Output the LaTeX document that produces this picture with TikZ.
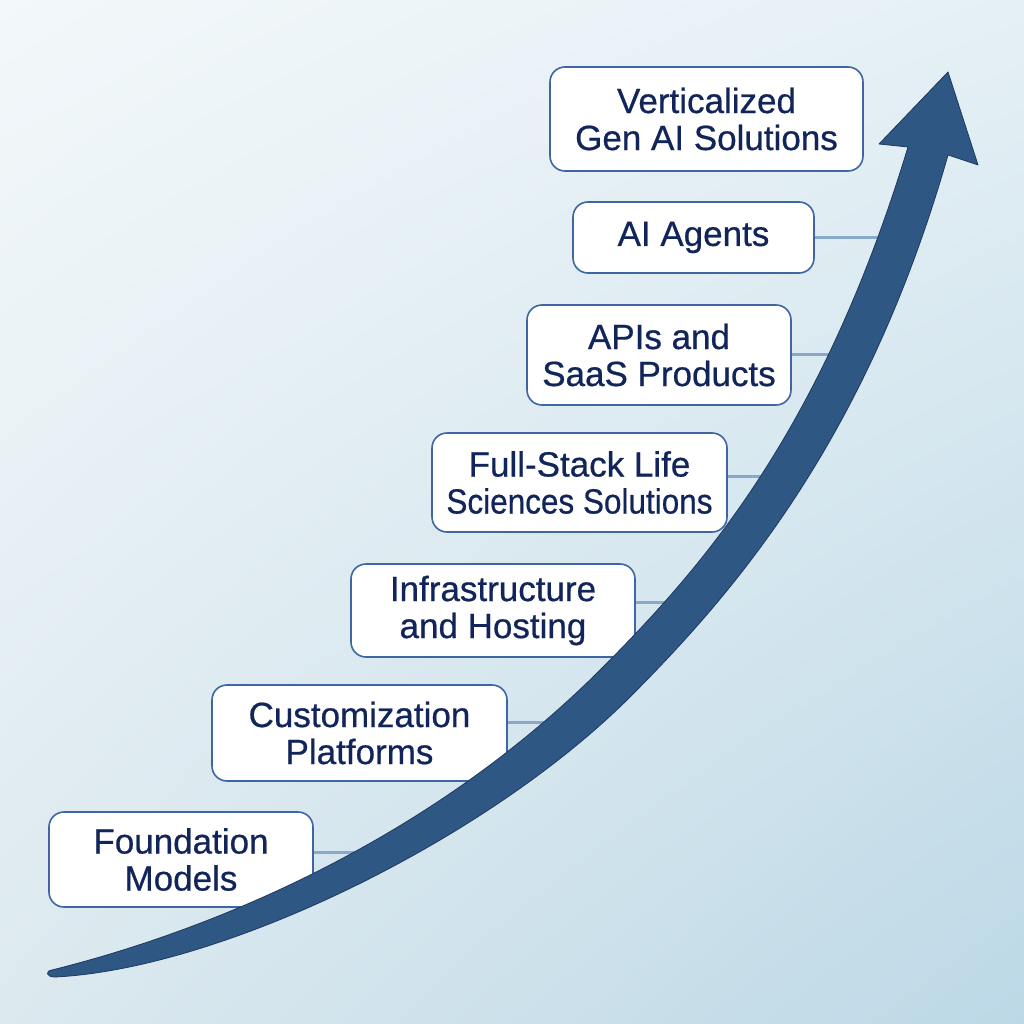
\documentclass[tikz,border=0pt]{standalone}
\usepackage{fontspec}
\usepackage{graphicx}
\usetikzlibrary{shadings}
\setmainfont{Liberation Sans}[FakeBold=0.6]
\definecolor{bgA}{HTML}{F3F8FA}
\definecolor{bgB}{HTML}{E5F0F5}
\definecolor{bgC}{HTML}{DCE9EF}
\definecolor{bgD}{HTML}{BCD8E6}
\definecolor{boxline}{HTML}{3F66A3}
\definecolor{txt}{HTML}{12255A}
\definecolor{arrowfill}{HTML}{2E5783}
\definecolor{arrowedge}{HTML}{1E3A62}
\definecolor{connc}{HTML}{8AA9CA}
\tikzset{
  stagebox/.style={draw=boxline, line width=1.6pt, fill=white, rounded corners=15pt,
    align=center, text=txt, inner sep=0pt, font=\fontsize{35}{37}\selectfont},
  conn/.style={draw=connc, line width=3pt},
  bigarrow/.style={fill=arrowfill, draw=arrowedge, line width=0.8pt, line join=round}
}
\begin{document}
\begin{tikzpicture}[x=1pt,y=-1pt]
\useasboundingbox (0,0) rectangle (1024,1024);
\shade[upper left=bgA, upper right=bgB, lower left=bgC, lower right=bgD] (0,0) rectangle (1024,1024);

% boxes
\node[stagebox, minimum width=264pt, minimum height=95pt] (b1) at (181,859.5) {Foundation\\Models};
\node[stagebox, minimum width=295pt, minimum height=96pt] (b2) at (359.5,733) {Customization\\Platforms};
\node[stagebox, minimum width=284pt, minimum height=93pt] (b3) at (493,610.5) {Infrastructure\\and Hosting};
\node[stagebox, minimum width=295pt, minimum height=99pt] (b4) at (579.5,482.5) {Full-Stack Life\\\scalebox{0.9}[1]{Sciences Solutions}};
\node[stagebox, minimum width=264pt, minimum height=100pt] (b5) at (659,355) {APIs and\\SaaS Products};
\node[stagebox, minimum width=241pt, minimum height=71pt] (b6) at (693.5,237.5) {AI Agents};
\node[stagebox, minimum width=313pt, minimum height=104pt] (b7) at (706.5,119) {Verticalized\\Gen AI Solutions};

% connector ends (hidden under the arrow)
\coordinate (c1) at (372,852);
\coordinate (c2) at (556,722);
\coordinate (c3) at (678,602);
\coordinate (c4) at (776,476);
\coordinate (c5) at (845,354);
\coordinate (c6) at (892,237);

\draw[conn] (b1.east |- c1) -- (c1);
\draw[conn] (b2.east |- c2) -- (c2);
\draw[conn] (b3.east |- c3) -- (c3);
\draw[conn] (b4.east |- c4) -- (c4);
\draw[conn] (b5.east |- c5) -- (c5);
\draw[conn] (b6.east |- c6) -- (c6);

% growth arrow
\path[bigarrow]
  (52,970) .. controls (232,925) and (440,830) .. (600,670)
  .. controls (702.5,567.5) and (821.5,432.5) .. (908,147)
  -- (879,144) -- (948,72) -- (978,165) -- (948,155)
  .. controls (868,435) and (739.3,587.7) .. (630,697)
  .. controls (488.5,838.5) and (224.5,968.5) .. (55,977)
  .. controls (46,977) and (45,971) .. (52,970) -- cycle;
\end{tikzpicture}
\end{document}
